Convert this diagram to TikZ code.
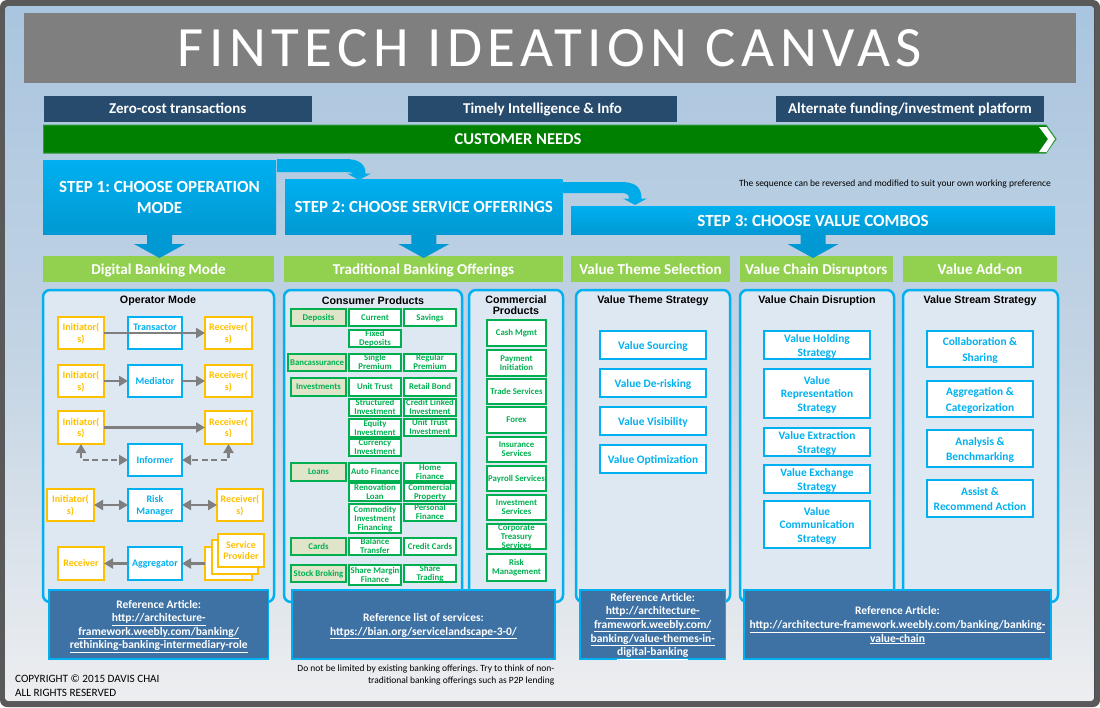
\documentclass[tikz,border=0pt]{standalone}
\usepackage{fontspec}
\setmainfont{Carlito}
\newfontfamily\headfont{Liberation Sans}
\newfontfamily\titlefont[LetterSpace=9.6]{Carlito}
\usetikzlibrary{calc,arrows.meta}

\definecolor{framegrey}{HTML}{595959}
\definecolor{bgtop}{HTML}{A9C5DF}
\definecolor{bgmid}{HTML}{C3D4E4}
\definecolor{bgbot}{HTML}{EDEEF0}
\definecolor{titlegrey}{HTML}{7F7F7F}
\definecolor{needblue}{HTML}{274B6D}
\definecolor{needgreen}{HTML}{008000}
\definecolor{neededge}{HTML}{2F9B3A}
\definecolor{steptop}{HTML}{00B0F0}
\definecolor{stepbot}{HTML}{0099D3}
\definecolor{lime}{HTML}{92D050}
\definecolor{panelfill}{HTML}{DEE8F2}
\definecolor{amber}{HTML}{FFC000}
\definecolor{leaf}{HTML}{00B050}
\definecolor{leaffill}{HTML}{E0E5CA}
\definecolor{refblue}{HTML}{3E72A5}
\definecolor{arrowgrey}{HTML}{7F7F7F}

\tikzset{
	plainbox/.style={inner sep=0pt, outer sep=0pt},
	needbox/.style={plainbox, fill=needblue, text=white, font=\fontsize{15}{15}\selectfont\bfseries},
	stepbox/.style={plainbox, top color=steptop, bottom color=stepbot, text=white, font=\fontsize{17}{20.5}\selectfont\bfseries},
	limebar/.style={plainbox, fill=lime, text=white, font=\fontsize{15.1}{15.5}\selectfont\bfseries},
	panel/.style={plainbox, draw=steptop, fill=panelfill, line width=2.5pt, rounded corners=7pt},
	paneltitle/.style={inner sep=0pt, font=\headfont\fontsize{10.7}{11.5}\selectfont\bfseries, align=center},
	yellowbox/.style={plainbox, draw=amber, fill=white, line width=1.8pt, text=amber, font=\fontsize{10}{11.3}\selectfont\bfseries},
	bluebox/.style={plainbox, draw=steptop, fill=white, line width=1.8pt, text=steptop, font=\fontsize{10}{11.3}\selectfont\bfseries},
	greenbox/.style={plainbox, draw=leaf, fill=white, line width=1.9pt, text=leaf, font=\fontsize{8.8}{9}\selectfont\bfseries},
	greenhead/.style={greenbox, fill=leaffill},
	valuebox/.style={plainbox, draw=steptop, fill=white, line width=1.8pt, text=steptop, font=\fontsize{11.4}{13.7}\selectfont\bfseries},
	streambox/.style={valuebox, font=\fontsize{11.4}{15.3}\selectfont\bfseries},
	refbox/.style={plainbox, draw=steptop, fill=refblue, line width=1.6pt, text=white, font=\fontsize{11.5}{13.6}\selectfont\bfseries},
	flow/.style={draw=arrowgrey, line width=2.5pt, -{Triangle[width=10pt,length=9pt]}},
	flowboth/.style={draw=arrowgrey, line width=2.5pt, {Triangle[width=10pt,length=9pt]}-{Triangle[width=10pt,length=9pt]}},
	flowdash/.style={flowboth, dash pattern=on 6pt off 3.5pt},
	smallnote/.style={inner sep=0pt, align=right, font=\fontsize{9.5}{12}\selectfont}
}

% box from its corners, text may stick out of it as in a slide
\def\boxat[#1](#2)(#3,#4,#5,#6)#7{\node[#1, minimum width=#5pt-#3pt, minimum height=#6pt-#4pt] (#2) at ({(#3+#5)/2},{(#4+#6)/2}) {\smash{\raisebox{-.37em}{\begin{tabular}[c]{@{}c@{}}#7\end{tabular}}}};}
\def\blockarrow(#1)(#2){\fill[stepbot] let \p1=(#1.south), \p2=(#2.north) in (\x1-12.5pt,\y1) -- (\x1+12.5pt,\y1) -- (\x1+12.5pt,\y2+12pt) -- (\x1+25.5pt,\y2+12pt) -- (\x1,\y2-2pt) -- (\x1-25.5pt,\y2+12pt) -- (\x1-12.5pt,\y2+12pt) -- cycle;}
\def\bentarrow(#1)(#2)(#3){\fill[steptop!97!black] let \p1=(#1), \p2=(#2) in (\x1,\y1) -- (\x2-14pt,\y1) .. controls (\x2,\y1) and (\x2+6.5pt,\y1-5pt) .. (\x2+6.5pt,\y2+6.5pt) -- (\x2+12pt,\y2+6.5pt) -- (\x2,\y2) -- (\x2-12pt,\y2+6.5pt) -- (\x2-6pt,\y2+6.5pt) .. controls (\x2-6pt,\y1-#3-1pt) and (\x2-9pt,\y1-#3) .. (\x2-14pt,\y1-#3) -- (\x1,\y1-#3) -- cycle;}

\begin{document}
\frenchspacing
\begin{tikzpicture}[x=1pt,y=-1pt]
		\useasboundingbox (0, 0) rectangle (1100, 707);
		%%%%% START %%%%%
		\fill[framegrey, rounded corners=7pt] (0, 0) rectangle (1100, 707);
		\fill[rounded corners=3pt, top color=bgtop, bottom color=bgbot, middle color=bgmid] (5, 6) rectangle (1094, 701);
		
		%%%%% TITLE AND NEEDS %%%%%
		\node[plainbox, fill=titlegrey, minimum width=1052pt, minimum height=70pt, text=white, font=\titlefont\fontsize{57}{57}\selectfont] (title) at (550, 48) {FINTECH IDEATION CANVAS};
		
		\boxat[needbox](needone)(43.5,96,312,122){Zero-cost transactions}
		\boxat[needbox](needtwo)(408,96,677,122){Timely Intelligence \& Info}
		\boxat[needbox](needthree)(776,96,1044,122){Alternate funding/investment platform}
		
		\draw[fill=needgreen, draw=neededge, line width=1pt] (43.5, 125) -- (1046, 125) -- (1056, 139) -- (1046, 153) -- (43.5, 153) -- cycle;
		\fill[white] (1039, 127) -- (1046.5, 127) -- (1055, 139) -- (1046.5, 152) -- (1039, 152) -- (1048, 139) -- cycle;
		\node[inner sep=0pt, text=white, font=\fontsize{16.5}{16.5}\selectfont\bfseries] (needbar) at (518, 139) {CUSTOMER NEEDS};
		
		%%%%% STEPS %%%%%
		\boxat[stepbox](stepone)(43,160,276,234){STEP 1: CHOOSE OPERATION\\MODE}
		\boxat[stepbox](steptwo)(285,179,562.5,234){STEP 2: CHOOSE SERVICE OFFERINGS}
		\boxat[stepbox](stepthree)(571,206,1055,234){STEP 3: CHOOSE VALUE COMBOS}
		
		\boxat[limebar](barone)(43,256,274,282){Digital Banking Mode}
		\boxat[limebar](bartwo)(284,256,563,282){Traditional Banking Offerings}
		\boxat[limebar](barthree)(571,256,730,282){Value Theme Selection}
		\boxat[limebar](barfour)(740,256,892.5,282){Value Chain Disruptors}
		\boxat[limebar](barfive)(903,256,1057,282){Value Add-on}
		
		\blockarrow(stepone)(barone)
		\blockarrow(steptwo)(bartwo)
		\blockarrow(stepthree)(barfour)
		
		\coordinate (bendonestart) at (277, 159);
		\coordinate (bendonetip) at (359, 180);
		\coordinate (bendtwostart) at (563, 182);
		\coordinate (bendtwotip) at (635, 205);
		\bentarrow(bendonestart)(bendonetip)(13pt)
		\bentarrow(bendtwostart)(bendtwotip)(11pt)
		
		\node[smallnote] (seqnote) at (895, 184) {The sequence can be reversed and modified to suit your own working preference};
		
		%%%%% PANELS %%%%%
		\boxat[panel](panelop)(43,290,274,602){}
		\boxat[panel](panelcons)(284,290,462,602){}
		\boxat[panel](panelcomm)(469,290,563,602){}
		\boxat[panel](paneltheme)(576,290,730,602){}
		\boxat[panel](panelchain)(740,290,894,602){}
		\boxat[panel](panelstream)(903,290,1058,602){}
		
		\node[paneltitle] (titleop) at (158, 300.5) {Operator Mode};
		\node[paneltitle] (titlecons) at (373, 300.5) {Consumer Products};
		\node[paneltitle, anchor=north] (titlecomm) at (516, 295.5) {Commercial\\Products};
		\node[paneltitle] (titletheme) at (653, 300.5) {Value Theme Strategy};
		\node[paneltitle] (titlechain) at (817, 300.5) {Value Chain Disruption};
		\node[paneltitle] (titlestream) at (980, 300.5) {Value Stream Strategy};
		
		%%%%% OPERATOR MODE %%%%%
		\boxat[yellowbox](initone)(58,317,104,349){Initiator(\\s)}
		\boxat[bluebox](transactor)(128,317,182,349){Transactor\\~}
		\boxat[yellowbox](recvone)(205,317,252,349){Receiver(\\s)}
		\draw[flow] (initone) -- (recvone);
		
		\boxat[yellowbox](inittwo)(58,365,104,397){Initiator(\\s)}
		\boxat[bluebox](mediator)(128,365,182,397){Mediator}
		\boxat[yellowbox](recvtwo)(205,365,252,397){Receiver(\\s)}
		\draw[flow] (inittwo) -- (mediator);
		\draw[flow] (mediator) -- (recvtwo);
		
		\boxat[yellowbox](initthree)(58,411,104,444){Initiator(\\s)}
		\boxat[yellowbox](recvthree)(205,411,252,444){Receiver(\\s)}
		\boxat[bluebox](informer)(128,444,182,476){Informer}
		\draw[flow] (initthree) -- (recvthree);
		\draw[flowdash] (initthree) |- (informer);
		\draw[flowdash] (recvthree) |- (informer);
		
		\boxat[yellowbox](initfour)(47,489,94,521){Initiator(\\s)}
		\boxat[bluebox](riskmgr)(128,489,182,521){Risk\\Manager}
		\boxat[yellowbox](recvfour)(217,489,263,521){Receiver(\\s)}
		\draw[flowboth] (initfour) -- (riskmgr);
		\draw[flowboth] (riskmgr) -- (recvfour);
		
		\boxat[yellowbox](recvfive)(58,547,104,580){Receiver}
		\boxat[bluebox](aggregator)(128,547,182,580){Aggregator}
		\boxat[yellowbox](provback)(205,547,252,580){}
		\boxat[yellowbox](provmid)(212,540,258,574){}
		\boxat[yellowbox](provfront)(218,534,264,567){Service\\Provider}
		\draw[flow] (provback.west) -- (aggregator);
		\draw[flow] (aggregator) -- (recvfive);
		
		%%%%% CONSUMER PRODUCTS %%%%%
		\boxat[greenhead](deposits)(291,309,346,326){Deposits}
		\boxat[greenbox](current)(349,309,401,326){Current}
		\boxat[greenbox](savings)(404,309,456,326){Savings}
		\boxat[greenbox](fixeddep)(349,330,401,347){Fixed\\Deposits}
		
		\boxat[greenhead](bancass)(288,354,346,371){Bancassurance}
		\boxat[greenbox](single)(349,354,401,371){Single\\Premium}
		\boxat[greenbox](regular)(404,354,456,371){Regular\\Premium}
		
		\boxat[greenhead](invest)(291,378,346,396){Investments}
		\boxat[greenbox](unittrust)(349,378,401,396){Unit Trust}
		\boxat[greenbox](retailbond)(404,378,456,396){Retail Bond}
		\boxat[greenbox](structured)(349,399,401,416){Structured\\Investment}
		\boxat[greenbox](creditlinked)(404,399,456,416){Credit Linked\\Investment}
		\boxat[greenbox](equity)(349,419,401,437){Equity\\Investment}
		\boxat[greenbox](unitinvest)(404,419,456,436){Unit Trust\\Investment}
		\boxat[greenbox](currency)(349,439,401,456){Currency\\Investment}
		
		\boxat[greenhead](loans)(291,463,346,481){Loans}
		\boxat[greenbox](autofin)(349,463,401,481){Auto Finance}
		\boxat[greenbox](homefin)(404,463,456,481){Home\\Finance}
		\boxat[greenbox](renovation)(349,483,401,501){Renovation\\Loan}
		\boxat[greenbox](commprop)(404,483,456,501){Commercial\\Property}
		\boxat[greenbox](commodity)(349,504,401,533){Commodity\\Investment\\Financing}
		\boxat[greenbox](personal)(404,504,456,521){Personal\\Finance}
		
		\boxat[greenhead](cards)(291,538,346,555){Cards}
		\boxat[greenbox](balance)(349,538,401,555){Balance\\Transfer}
		\boxat[greenbox](creditcards)(404,538,456,555){Credit Cards}
		
		\boxat[greenhead](stock)(291,565,346,582){Stock Broking}
		\boxat[greenbox](margin)(349,565,401,585){Share Margin\\Finance}
		\boxat[greenbox](sharetrade)(404,565,456,582){Share\\Trading}
		
		%%%%% COMMERCIAL PRODUCTS %%%%%
		\boxat[greenbox](cashmgmt)(487,320,546,346){Cash Mgmt}
		\boxat[greenbox](payment)(487,350,546,376){Payment\\Initiation}
		\boxat[greenbox](trade)(487,379,546,404){Trade Services}
		\boxat[greenbox](forex)(487,407,546,433){Forex}
		\boxat[greenbox](insurance)(487,437,546,462){Insurance\\Services}
		\boxat[greenbox](payroll)(487,466,546,491){Payroll Services}
		\boxat[greenbox](investsvc)(487,495,546,520){Investment\\Services}
		\boxat[greenbox](treasury)(487,524,546,549){Corporate\\Treasury\\Services}
		\boxat[greenbox](riskmgmt)(487,554,546,581){Risk\\Management}
		
		%%%%% VALUE COLUMNS %%%%%
		\boxat[valuebox](sourcing)(600,331,706,359){Value Sourcing}
		\boxat[valuebox](derisking)(600,369,706,397){Value De-risking}
		\boxat[valuebox](visibility)(600,407,706,435){Value Visibility}
		\boxat[valuebox](optimization)(600,445,706,473){Value Optimization}
		
		\boxat[valuebox](holding)(764,331,870,359){Value Holding\\Strategy}
		\boxat[valuebox](represent)(764,369,870,418){Value\\Representation\\Strategy}
		\boxat[valuebox](extraction)(764,428,870,456){Value Extraction\\Strategy}
		\boxat[valuebox](exchange)(764,465,870,493){Value Exchange\\Strategy}
		\boxat[valuebox](communicate)(764,501,870,548){Value\\Communication\\Strategy}
		
		\boxat[streambox](collab)(927,331,1033,367){Collaboration \&\\Sharing}
		\boxat[streambox](aggreg)(927,381,1033,417){Aggregation \&\\Categorization}
		\boxat[streambox](analysis)(927,430,1033,467){Analysis \&\\Benchmarking}
		\boxat[streambox](assist)(927,480,1033,517){Assist \&\\Recommend Action}
		
		%%%%% REFERENCES %%%%%
		\boxat[refbox](refop)(49,590,268.5,659){Reference Article:\\\underline{http://architecture-}\\\underline{framework.weebly.com/banking/}\\\underline{rethinking-banking-intermediary-role}}
		\boxat[refbox](refserv)(292,590,555,659){Reference list of services:\\\underline{https://bian.org/servicelandscape-3-0/}}
		\boxat[refbox](reftheme)(580,590,725.5,659){Reference Article:\\\underline{http://architecture-}\\\underline{framework.weebly.com/}\\\underline{banking/value-themes-in-}\\\underline{digital-banking}}
		\boxat[refbox](refchain)(744,590,1051,659){Reference Article:\\\underline{http://architecture-framework.weebly.com/banking/banking-}\\\underline{value-chain}}
		
		\node[smallnote, anchor=north east, font=\fontsize{9.5}{12}\selectfont] (limitnote) at (554.5, 664.5) {Do not be limited by existing banking offerings. Try to think of non-\\traditional banking offerings such as P2P lending};
		\node[inner sep=0pt, anchor=north west, align=left, font=\fontsize{11.2}{13.2}\selectfont] (copynote) at (15, 675) {COPYRIGHT © 2015 DAVIS CHAI\\ALL RIGHTS RESERVED};
		%%%%% END %%%%%
	\end{tikzpicture}
\end{document}
